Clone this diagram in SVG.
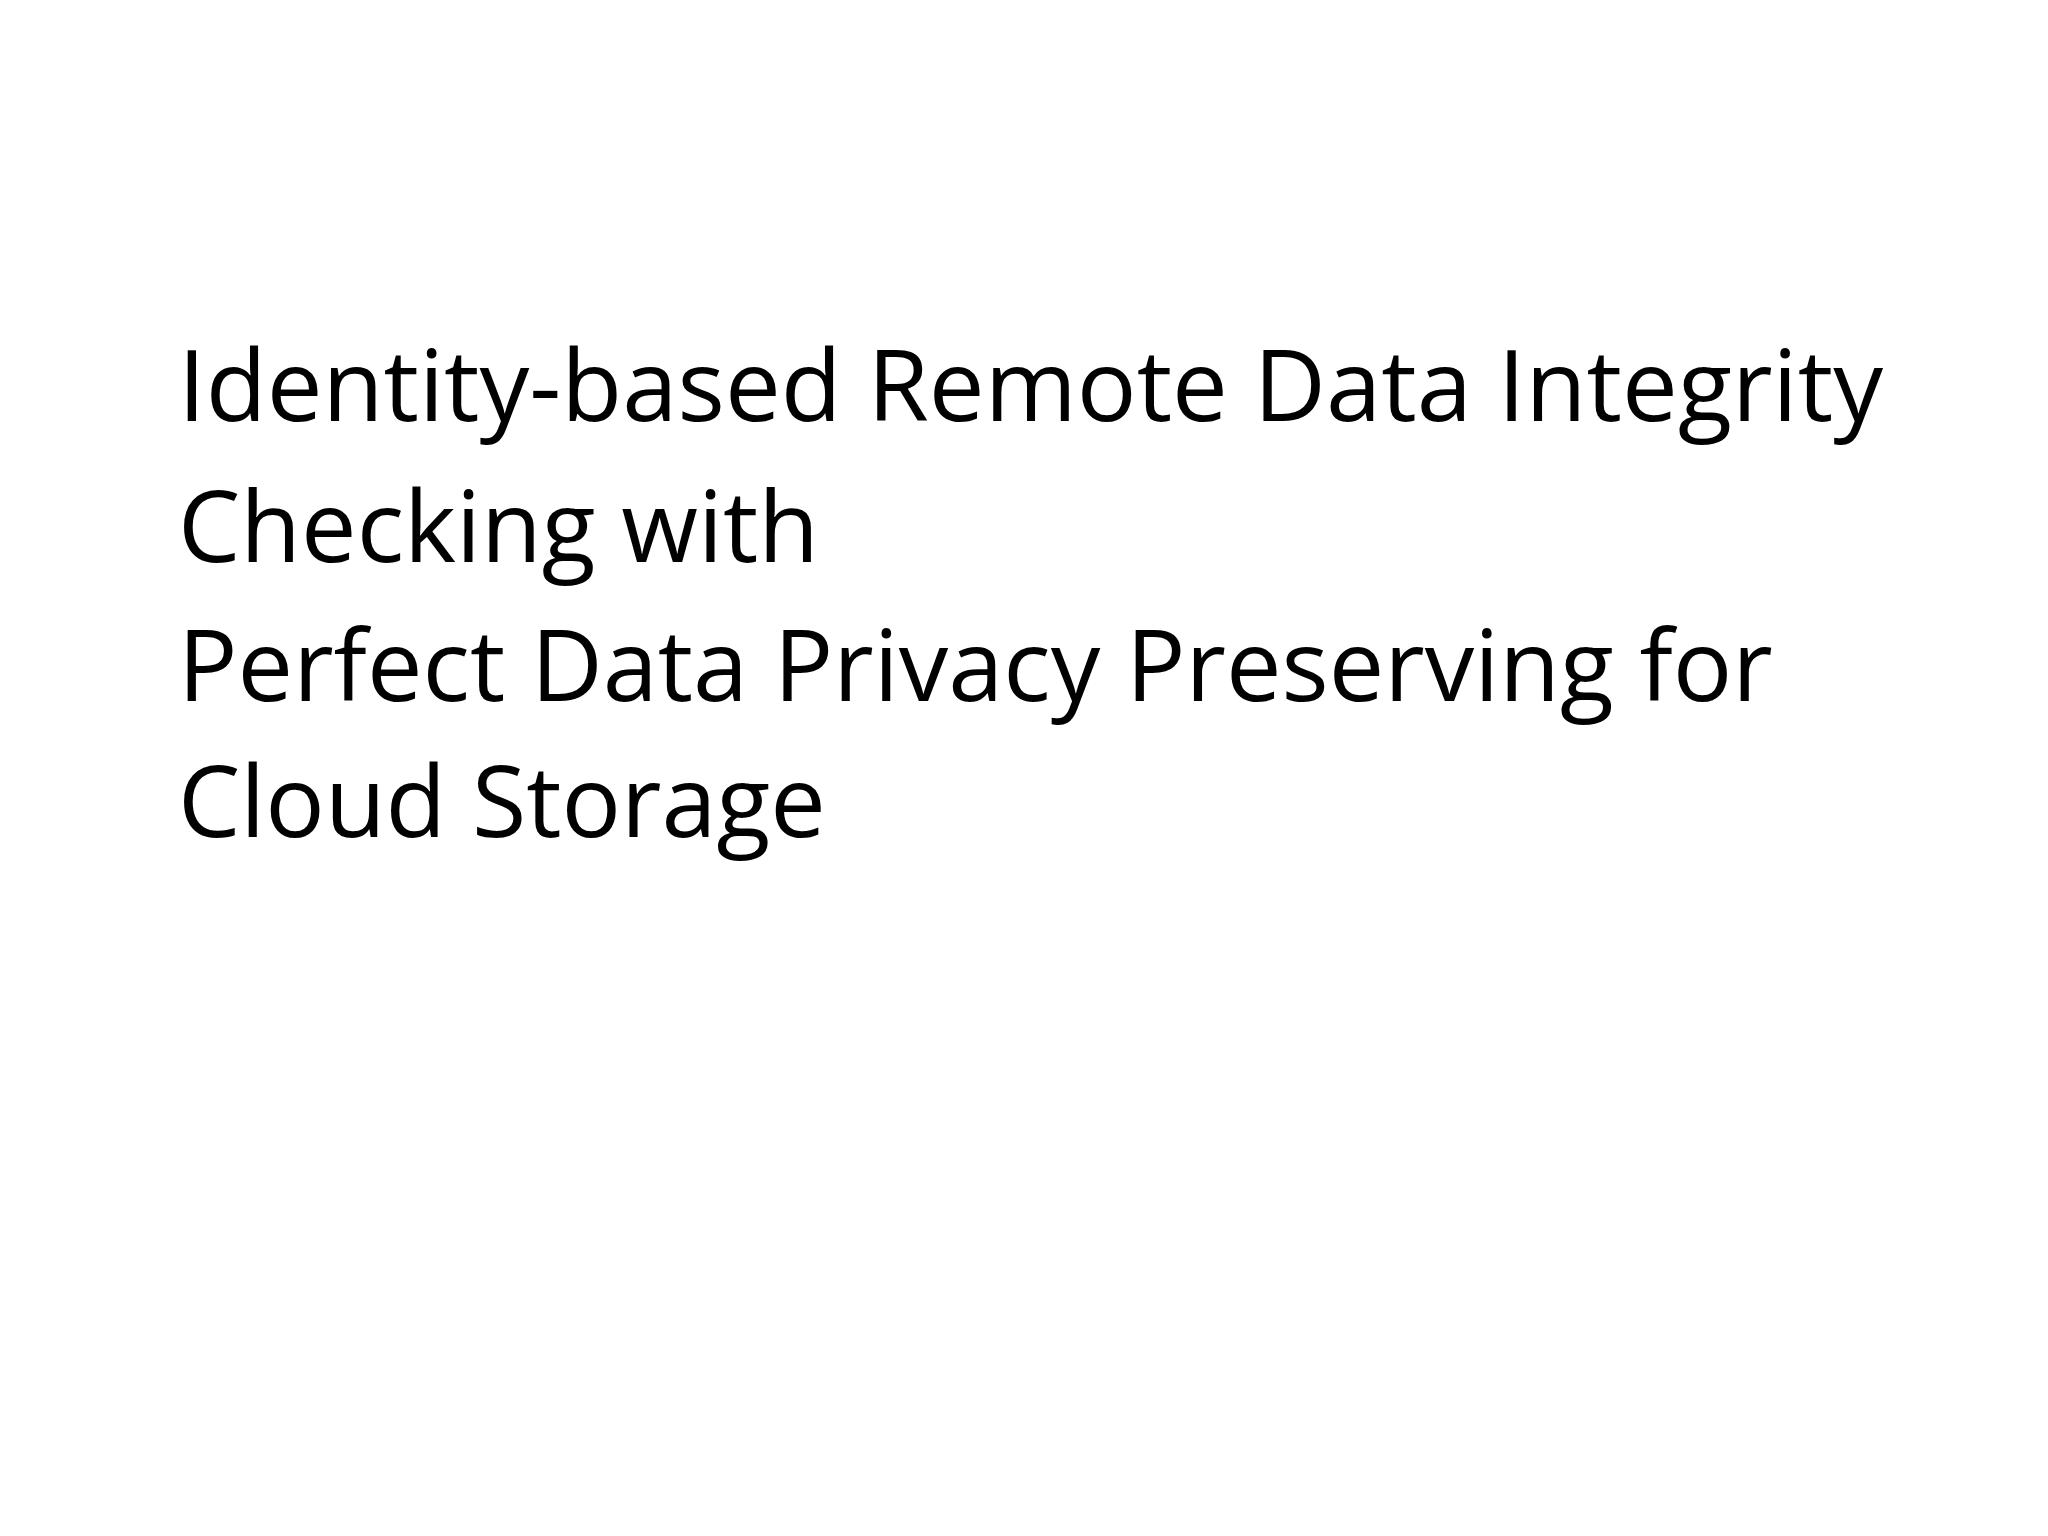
<svg xmlns="http://www.w3.org/2000/svg" width="2048" height="1536" viewBox="0 0 2048 1536">
<style>.t{font-family:"Open Sans","DejaVu Sans",sans-serif;font-size:99px;fill:#000}</style>
<rect width="2048" height="1536" fill="#fff"/>
<g id="title">
<text class="t" x="178" y="421" textLength="1705" lengthAdjust="spacingAndGlyphs">Identity-based Remote Data Integrity</text>
<text class="t" x="178" y="562">Checking with</text>
<text class="t" x="178" y="701">Perfect Data Privacy Preserving for</text>
<text class="t" x="178" y="837">Cloud Storage</text>
</g>
</svg>
